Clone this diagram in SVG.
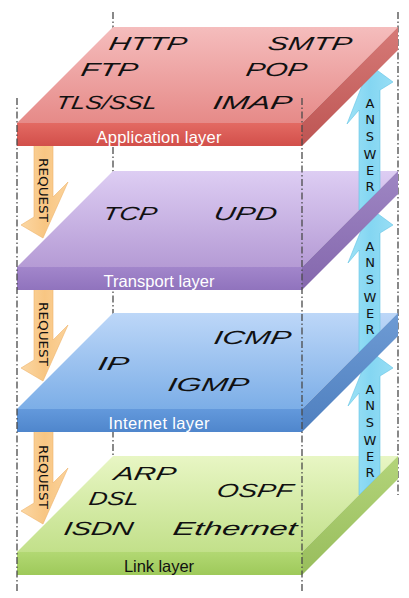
<svg xmlns="http://www.w3.org/2000/svg" width="409" height="598" viewBox="0 0 409 598">
<defs>
<linearGradient id="appTop" x1="0" y1="0" x2="0" y2="1"><stop offset="0" stop-color="#f5bdbd"/><stop offset="1" stop-color="#e68a88"/></linearGradient>
<linearGradient id="appFront" x1="0" y1="0" x2="0" y2="1"><stop offset="0" stop-color="#e36a63"/><stop offset="1" stop-color="#d24f4a"/></linearGradient>
<linearGradient id="appSide" x1="0" y1="0" x2="0" y2="1"><stop offset="0" stop-color="#d67a77"/><stop offset="1" stop-color="#bd5553"/></linearGradient>
<linearGradient id="trTop" x1="0" y1="0" x2="0" y2="1"><stop offset="0" stop-color="#ddcdf3"/><stop offset="1" stop-color="#b59bd5"/></linearGradient>
<linearGradient id="trFront" x1="0" y1="0" x2="0" y2="1"><stop offset="0" stop-color="#a286cb"/><stop offset="1" stop-color="#9073bd"/></linearGradient>
<linearGradient id="trSide" x1="0" y1="0" x2="0" y2="1"><stop offset="0" stop-color="#9e86c3"/><stop offset="1" stop-color="#8467ad"/></linearGradient>
<linearGradient id="inTop" x1="0" y1="0" x2="0" y2="1"><stop offset="0" stop-color="#bdd7f8"/><stop offset="1" stop-color="#7caee7"/></linearGradient>
<linearGradient id="inFront" x1="0" y1="0" x2="0" y2="1"><stop offset="0" stop-color="#6399dc"/><stop offset="1" stop-color="#4f86cc"/></linearGradient>
<linearGradient id="inSide" x1="0" y1="0" x2="0" y2="1"><stop offset="0" stop-color="#6e9bd4"/><stop offset="1" stop-color="#4e7fbf"/></linearGradient>
<linearGradient id="lkTop" x1="0" y1="0" x2="0" y2="1"><stop offset="0" stop-color="#e8f6c4"/><stop offset="1" stop-color="#c2e08a"/></linearGradient>
<linearGradient id="lkFront" x1="0" y1="0" x2="0" y2="1"><stop offset="0" stop-color="#b2d873"/><stop offset="1" stop-color="#9ec95a"/></linearGradient>
<linearGradient id="lkSide" x1="0" y1="0" x2="0" y2="1"><stop offset="0" stop-color="#b3d47a"/><stop offset="1" stop-color="#98bd5c"/></linearGradient>
<linearGradient id="reqG" x1="0" y1="0" x2="1" y2="0"><stop offset="0" stop-color="#fbd7a4"/><stop offset="0.5" stop-color="#f8c683"/><stop offset="1" stop-color="#fbd29a"/></linearGradient>
<linearGradient id="ansG" x1="0" y1="0" x2="1" y2="0"><stop offset="0" stop-color="#9ee2f6"/><stop offset="0.5" stop-color="#84d6f2"/><stop offset="1" stop-color="#97def5"/></linearGradient>
<style>
.dash{stroke:#4a4a4a;stroke-width:1.3;stroke-dasharray:7 2.5 1.5 2.5;fill:none}
.proto{font-family:"Liberation Sans",Arial,sans-serif;font-style:italic;font-size:19px;fill:#111}
.lbl{font-family:"Liberation Sans",Arial,sans-serif;font-size:16.5px;text-anchor:middle}
.req{fill:url(#reqG);stroke:#efb46c;stroke-width:0.6}
.ans{fill:url(#ansG);stroke:#62c2e4;stroke-width:0.6}
.vt{font-family:"DejaVu Sans",sans-serif;font-size:12px;fill:#111;text-anchor:middle}
.at{font-family:"DejaVu Sans",sans-serif;font-size:13px;fill:#111;text-anchor:middle}
</style>
</defs>

<g id="guides-back">
<line class="dash" x1="113" y1="12" x2="113" y2="456"/>
<line class="dash" x1="398" y1="12" x2="398" y2="495"/>
</g>

<g id="link-layer" transform="translate(0,429)">
<path d="M113,27 L398,27 L302,123 L17,123 Z" fill="url(#lkTop)"/>
<path d="M302,123 L398,27 V50 L302,146 Z" fill="url(#lkSide)"/>
<rect x="17" y="123" width="285" height="23" fill="url(#lkFront)"/>
<text class="lbl" x="159" y="143" fill="#111" textLength="70">Link layer</text>
</g>
<g id="link-protocols">
<text class="proto" transform="translate(113,480) skewX(-10)" textLength="62" lengthAdjust="spacingAndGlyphs">ARP</text>
<text class="proto" transform="translate(88,505) skewX(-10)" textLength="50" lengthAdjust="spacingAndGlyphs">DSL</text>
<text class="proto" transform="translate(216,497) skewX(-10)" textLength="76" lengthAdjust="spacingAndGlyphs">OSPF</text>
<text class="proto" transform="translate(63,535) skewX(-10)" textLength="69" lengthAdjust="spacingAndGlyphs">ISDN</text>
<text class="proto" transform="translate(172,535) skewX(-10)" textLength="124" lengthAdjust="spacingAndGlyphs">Ethernet</text>
</g>

<g id="connectors-3">
<g id="request-3">
<path class="req" d="M34,426 L53,426 L53,483 L68,468 L43,524 L21,511 L34,503 Z"/>
<text class="vt" transform="translate(39,477) rotate(90)" textLength="64" lengthAdjust="spacingAndGlyphs">REQUEST</text>
</g>
<g id="answer-3">
<path class="ans" d="M370,351 L393,368 L380,376 L380,474 L359,495 L359,393 L348,406 Z"/>
<text class="at"><tspan x="370" y="394">A</tspan><tspan x="370" y="410">N</tspan><tspan x="370" y="427">S</tspan><tspan x="370" y="445">W</tspan><tspan x="370" y="461">E</tspan><tspan x="370" y="477">R</tspan></text>
</g>
</g>

<g id="internet-layer" transform="translate(0,286)">
<path d="M113,27 L398,27 L302,123 L17,123 Z" fill="url(#inTop)"/>
<path d="M302,123 L398,27 V50 L302,146 Z" fill="url(#inSide)"/>
<rect x="17" y="123" width="285" height="23" fill="url(#inFront)"/>
<text class="lbl" x="159" y="143" fill="#fff" textLength="101">Internet layer</text>
</g>
<g id="internet-protocols">
<text class="proto" transform="translate(213,344) skewX(-10)" textLength="77" lengthAdjust="spacingAndGlyphs">ICMP</text>
<text class="proto" transform="translate(97,370) skewX(-10)" textLength="31" lengthAdjust="spacingAndGlyphs">IP</text>
<text class="proto" transform="translate(167,391) skewX(-10)" textLength="81" lengthAdjust="spacingAndGlyphs">IGMP</text>
</g>

<g id="connectors-2">
<g id="request-2">
<path class="req" d="M34,283 L53,283 L53,340 L68,325 L43,381 L21,368 L34,360 Z"/>
<text class="vt" transform="translate(39,334) rotate(90)" textLength="64" lengthAdjust="spacingAndGlyphs">REQUEST</text>
</g>
<g id="answer-2">
<path class="ans" d="M370,208 L393,225 L380,233 L380,331 L359,352 L359,250 L348,263 Z"/>
<text class="at"><tspan x="370" y="251">A</tspan><tspan x="370" y="267">N</tspan><tspan x="370" y="284">S</tspan><tspan x="370" y="302">W</tspan><tspan x="370" y="318">E</tspan><tspan x="370" y="334">R</tspan></text>
</g>
</g>

<g id="transport-layer" transform="translate(0,144)">
<path d="M113,27 L398,27 L302,123 L17,123 Z" fill="url(#trTop)"/>
<path d="M302,123 L398,27 V50 L302,146 Z" fill="url(#trSide)"/>
<rect x="17" y="123" width="285" height="23" fill="url(#trFront)"/>
<text class="lbl" x="159" y="143" fill="#fff" textLength="111">Transport layer</text>
</g>
<g id="transport-protocols">
<text class="proto" transform="translate(102,220) skewX(-10)" textLength="54" lengthAdjust="spacingAndGlyphs">TCP</text>
<text class="proto" transform="translate(213,220) skewX(-10)" textLength="63" lengthAdjust="spacingAndGlyphs">UPD</text>
</g>

<g id="connectors-1">
<g id="request-1">
<path class="req" d="M34,140 L53,140 L53,197 L68,182 L43,238 L21,225 L34,217 Z"/>
<text class="vt" transform="translate(39,190) rotate(90)" textLength="64" lengthAdjust="spacingAndGlyphs">REQUEST</text>
</g>
<g id="answer-1">
<path class="ans" d="M370,65 L393,82 L380,90 L380,189 L359,210 L359,110 L347,124 Z"/>
<text class="at"><tspan x="370" y="108">A</tspan><tspan x="370" y="124">N</tspan><tspan x="370" y="141">S</tspan><tspan x="370" y="159">W</tspan><tspan x="370" y="175">E</tspan><tspan x="370" y="191">R</tspan></text>
</g>
</g>

<g id="application-layer">
<path d="M113,27 L398,27 L302,123 L17,123 Z" fill="url(#appTop)"/>
<path d="M302,123 L398,27 V50 L302,146 Z" fill="url(#appSide)"/>
<rect x="17" y="123" width="285" height="23" fill="url(#appFront)"/>
<text class="lbl" x="159" y="143" fill="#fff" textLength="125">Application layer</text>
</g>
<g id="application-protocols">
<text class="proto" transform="translate(108,50) skewX(-10)" textLength="78" lengthAdjust="spacingAndGlyphs">HTTP</text>
<text class="proto" transform="translate(267,50) skewX(-10)" textLength="84" lengthAdjust="spacingAndGlyphs">SMTP</text>
<text class="proto" transform="translate(80,76) skewX(-10)" textLength="57" lengthAdjust="spacingAndGlyphs">FTP</text>
<text class="proto" transform="translate(245,76) skewX(-10)" textLength="61" lengthAdjust="spacingAndGlyphs">POP</text>
<text class="proto" transform="translate(55,109) skewX(-10)" textLength="101" lengthAdjust="spacingAndGlyphs">TLS/SSL</text>
<text class="proto" transform="translate(212,109) skewX(-10)" textLength="79" lengthAdjust="spacingAndGlyphs">IMAP</text>
</g>

<g id="guides-front">
<line class="dash" x1="17" y1="98" x2="17" y2="593"/>
<line class="dash" x1="302" y1="98" x2="302" y2="593"/>
</g>
</svg>
